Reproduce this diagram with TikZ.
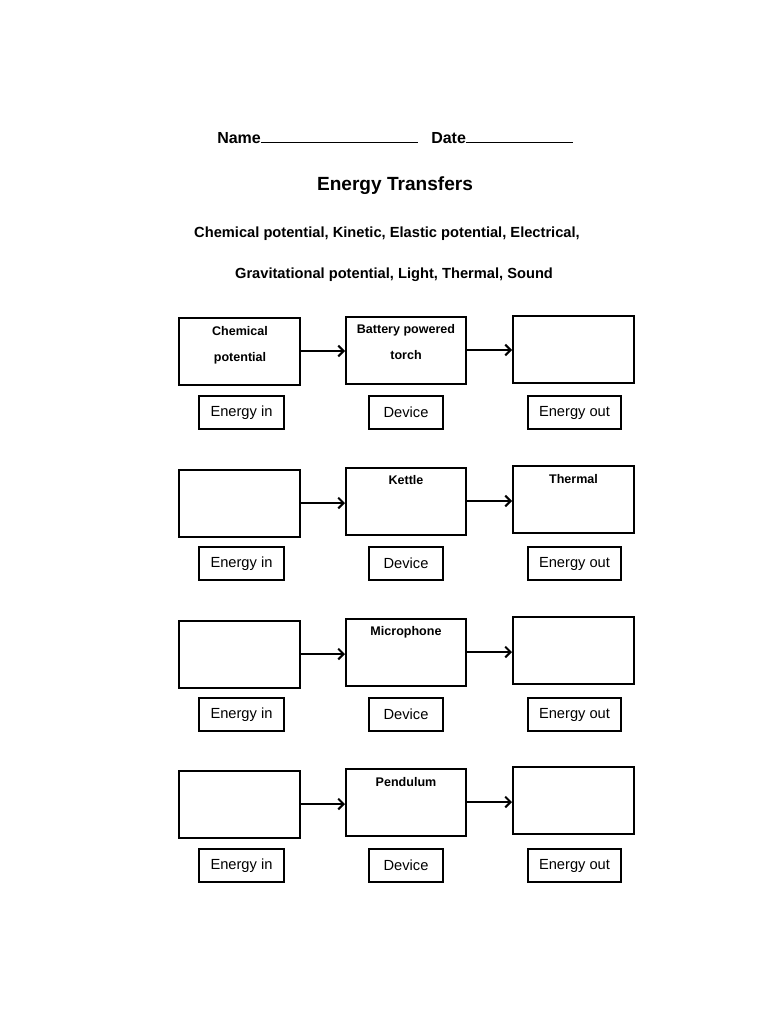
\documentclass[tikz,border=0pt]{standalone}
\usepackage{fontspec}
\setmainfont{Liberation Sans}
\usetikzlibrary{arrows.meta}
\newcommand{\ulfill}{\leaders\hrule height 1.1pt\hfill\kern0pt}
\begin{document}
\begin{tikzpicture}[x=0.75pt,y=-0.75pt,
  bigbox/.style={draw, line width=1.5pt, minimum width={121*0.75pt}, minimum height={67*0.75pt}, inner sep=0pt},
  midbox/.style={bigbox, minimum width={120*0.75pt}},
  lblbox/.style={draw, line width=1.4pt, minimum height={33*0.75pt}, inner sep=0pt, font=\fontsize{11}{13}\selectfont},
  intxt/.style={font=\bfseries\fontsize{9.4}{11}\selectfont, anchor=north, align=center, inner sep=0pt},
  arr/.style={line width=1.5pt, -{Straight Barb[length=4pt,width=8pt]}}
]
\useasboundingbox[fill=white] (0,0) rectangle (768,1024);

% header
\node[anchor=base west, inner sep=0pt, font=\bfseries\fontsize{12}{14}\selectfont] (name) at (217,143) {\makebox[150.75pt][l]{Name\ulfill}};
\node[anchor=base west, inner sep=0pt, font=\bfseries\fontsize{12}{14}\selectfont] (date) at (431,143) {\makebox[106.5pt][l]{Date\ulfill}};
\node[font=\bfseries\fontsize{14.3}{17}\selectfont, inner sep=0pt] (title) at (395,186) {Energy Transfers};
\node[font=\bfseries\fontsize{11}{13}\selectfont, inner sep=0pt] (list1) at (387,234) {Chemical potential, Kinetic, Elastic potential, Electrical,};
\node[font=\bfseries\fontsize{11}{13}\selectfont, inner sep=0pt] (list2) at (394,275) {Gravitational potential, Light, Thermal, Sound};

% row 1
\node[bigbox] (l1) at (239.5,351) {};
\node[midbox] (m1) at (406,350) {};
\node[bigbox] (r1) at (573.5,349) {};
\node[intxt] (l1t) at (240,326) {Chemical\\[8.5pt]potential};
\node[intxt] (m1t) at (406,324) {Battery powered\\[8.5pt]torch};
\draw[arr] (l1.east) -- (l1.east -| m1.west);
\draw[arr] (m1.east) -- (m1.east -| r1.west);
\node[lblbox, minimum width={85*0.75pt}] (ei1) at (241.5,412.5) {Energy in};
\node[lblbox, minimum width={74*0.75pt}] (dv1) at (406,412.5) {Device};
\node[lblbox, minimum width={93*0.75pt}] (eo1) at (574.5,412.5) {Energy out};

% row 2
\node[bigbox] (l2) at (239.5,503) {};
\node[midbox] (m2) at (406,501) {};
\node[bigbox] (r2) at (573.5,499) {};
\node[intxt] (m2t) at (406,475) {Kettle};
\node[intxt] (r2t) at (573.5,474) {Thermal};
\draw[arr] (l2.east) -- (l2.east -| m2.west);
\draw[arr] (m2.east) -- (m2.east -| r2.west);
\node[lblbox, minimum width={85*0.75pt}] (ei2) at (241.5,563.5) {Energy in};
\node[lblbox, minimum width={74*0.75pt}] (dv2) at (406,563.5) {Device};
\node[lblbox, minimum width={93*0.75pt}] (eo2) at (574.5,563.5) {Energy out};

% row 3
\node[bigbox] (l3) at (239.5,654) {};
\node[midbox] (m3) at (406,652) {};
\node[bigbox] (r3) at (573.5,650) {};
\node[intxt] (m3t) at (406,626) {Microphone};
\draw[arr] (l3.east) -- (l3.east -| m3.west);
\draw[arr] (m3.east) -- (m3.east -| r3.west);
\node[lblbox, minimum width={85*0.75pt}] (ei3) at (241.5,714.5) {Energy in};
\node[lblbox, minimum width={74*0.75pt}] (dv3) at (406,714.5) {Device};
\node[lblbox, minimum width={93*0.75pt}] (eo3) at (574.5,714.5) {Energy out};

% row 4
\node[bigbox] (l4) at (239.5,804) {};
\node[midbox] (m4) at (406,802) {};
\node[bigbox] (r4) at (573.5,800) {};
\node[intxt] (m4t) at (406,777) {Pendulum};
\draw[arr] (l4.east) -- (l4.east -| m4.west);
\draw[arr] (m4.east) -- (m4.east -| r4.west);
\node[lblbox, minimum width={85*0.75pt}] (ei4) at (241.5,865.5) {Energy in};
\node[lblbox, minimum width={74*0.75pt}] (dv4) at (406,865.5) {Device};
\node[lblbox, minimum width={93*0.75pt}] (eo4) at (574.5,865.5) {Energy out};
\end{tikzpicture}
\end{document}
